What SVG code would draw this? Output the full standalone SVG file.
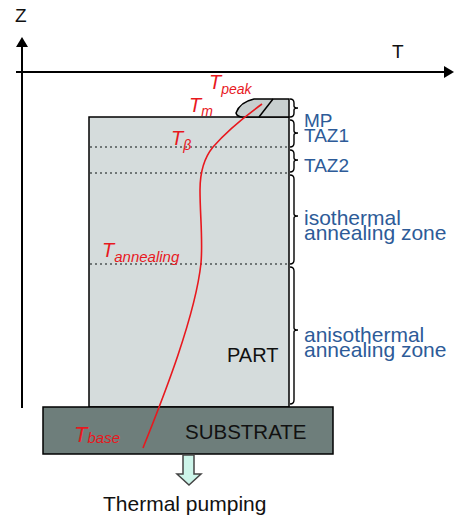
<svg xmlns="http://www.w3.org/2000/svg" width="474" height="519" viewBox="0 0 474 519">
<style>
.ax{stroke:#000;stroke-width:2;fill:none}
.ol{stroke:#000;stroke-width:1.5}
.dot{stroke:#6f7676;stroke-width:2;stroke-dasharray:2,3;fill:none}
.br{stroke:#000;stroke-width:1.4;fill:none}
.blk{font-family:"Liberation Sans",Arial,sans-serif;fill:#111}
.blu{font-family:"Liberation Sans",Arial,sans-serif;fill:#2d5b98}
.red{font-family:"Liberation Sans",Arial,sans-serif;font-style:italic;fill:#e8181e}
</style>
<g id="axes">
<line class="ax" x1="22" y1="408" x2="22" y2="45"/>
<path d="M16,47 L22,37 L28,47 Z" fill="#000"/>
<line class="ax" x1="16" y1="72" x2="446" y2="72"/>
<path d="M444,66 L454,72 L444,78 Z" fill="#000"/>
<text class="blk" x="15" y="22" font-size="19">Z</text>
<text class="blk" x="392" y="58" font-size="19">T</text>
</g>
<g id="part">
<rect x="89" y="117" width="200" height="290" fill="#d5dcdc" class="ol"/>
<line class="dot" x1="90" y1="147" x2="288" y2="147"/>
<line class="dot" x1="90" y1="173" x2="288" y2="173"/>
<line class="dot" x1="90" y1="264" x2="288" y2="264"/>
<text class="blk" x="227" y="362" font-size="20">PART</text>
</g>
<g id="meltpool">
<path d="M289,117 L289,99 L254,99 Q240,102 236,113 Q237,117 243,117 Z" fill="#c8cfcf" class="ol"/>
<line x1="273" y1="99" x2="259" y2="117" class="ol"/>
</g>
<g id="substrate">
<rect x="43" y="407" width="290" height="47" fill="#6e7e7b" class="ol"/>
<text class="blk" x="185" y="439" font-size="20.5">SUBSTRATE</text>
</g>
<g id="pumping">
<path d="M183,455 L194,455 L194,474 L201,474 L189,485 L177,474 L183,474 Z" fill="#cdf5ea" stroke="#444" stroke-width="1.5"/>
<text class="blk" x="103" y="511" font-size="21">Thermal pumping</text>
</g>
<g id="profile">
<path d="M143,448 C158,410 195,320 201,263 C203,240 200,215 200,190 C200,172 204,158 213,147 C225,133 240,120 262,104" fill="none" stroke="#e8181e" stroke-width="1.6"/>
<text class="red" x="209" y="89" font-size="20">T<tspan font-size="14" dy="5">peak</tspan></text>
<text class="red" x="189" y="112" font-size="20">T<tspan font-size="14" dy="4">m</tspan></text>
<text class="red" x="171" y="145" font-size="20">T<tspan font-size="14" dy="5">β</tspan></text>
<text class="red" x="102" y="257" font-size="20">T<tspan font-size="15" dy="5">annealing</tspan></text>
<text class="red" x="74" y="442" font-size="22">T<tspan font-size="15" dy="1">base</tspan></text>
</g>
<g id="braces">
<path class="br" d="M290,99 Q294,99 294,103 L294,106 Q294,108 298,108 Q294,108 294,110 L294,113 Q294,117 290,117"/>
<path class="br" d="M290,120 Q294,120 294,124 L294,131 Q294,133 298,133 Q294,133 294,135 L294,143 Q294,147 290,147"/>
<path class="br" d="M290,150 Q294,150 294,154 L294,158 Q294,160 298,160 Q294,160 294,162 L294,168 Q294,172 290,172"/>
<path class="br" d="M290,175 Q294,175 294,179 L294,214 Q294,216 298,216 Q294,216 294,218 L294,260 Q294,264 290,264"/>
<path class="br" d="M290,267 Q294,267 294,271 L294,328 Q294,330 298,330 Q294,330 294,332 L294,400 Q294,404 290,404"/>
</g>
<g id="labels">
<text class="blu" x="304" y="127" font-size="19">MP</text>
<text class="blu" x="304" y="142" font-size="19">TAZ1</text>
<text class="blu" x="304" y="172" font-size="19">TAZ2</text>
<text class="blu" x="304" y="225" font-size="21">isothermal</text>
<text class="blu" x="304" y="240" font-size="21">annealing zone</text>
<text class="blu" x="304" y="342" font-size="21">anisothermal</text>
<text class="blu" x="304" y="357" font-size="21">annealing zone</text>
</g>
</svg>
